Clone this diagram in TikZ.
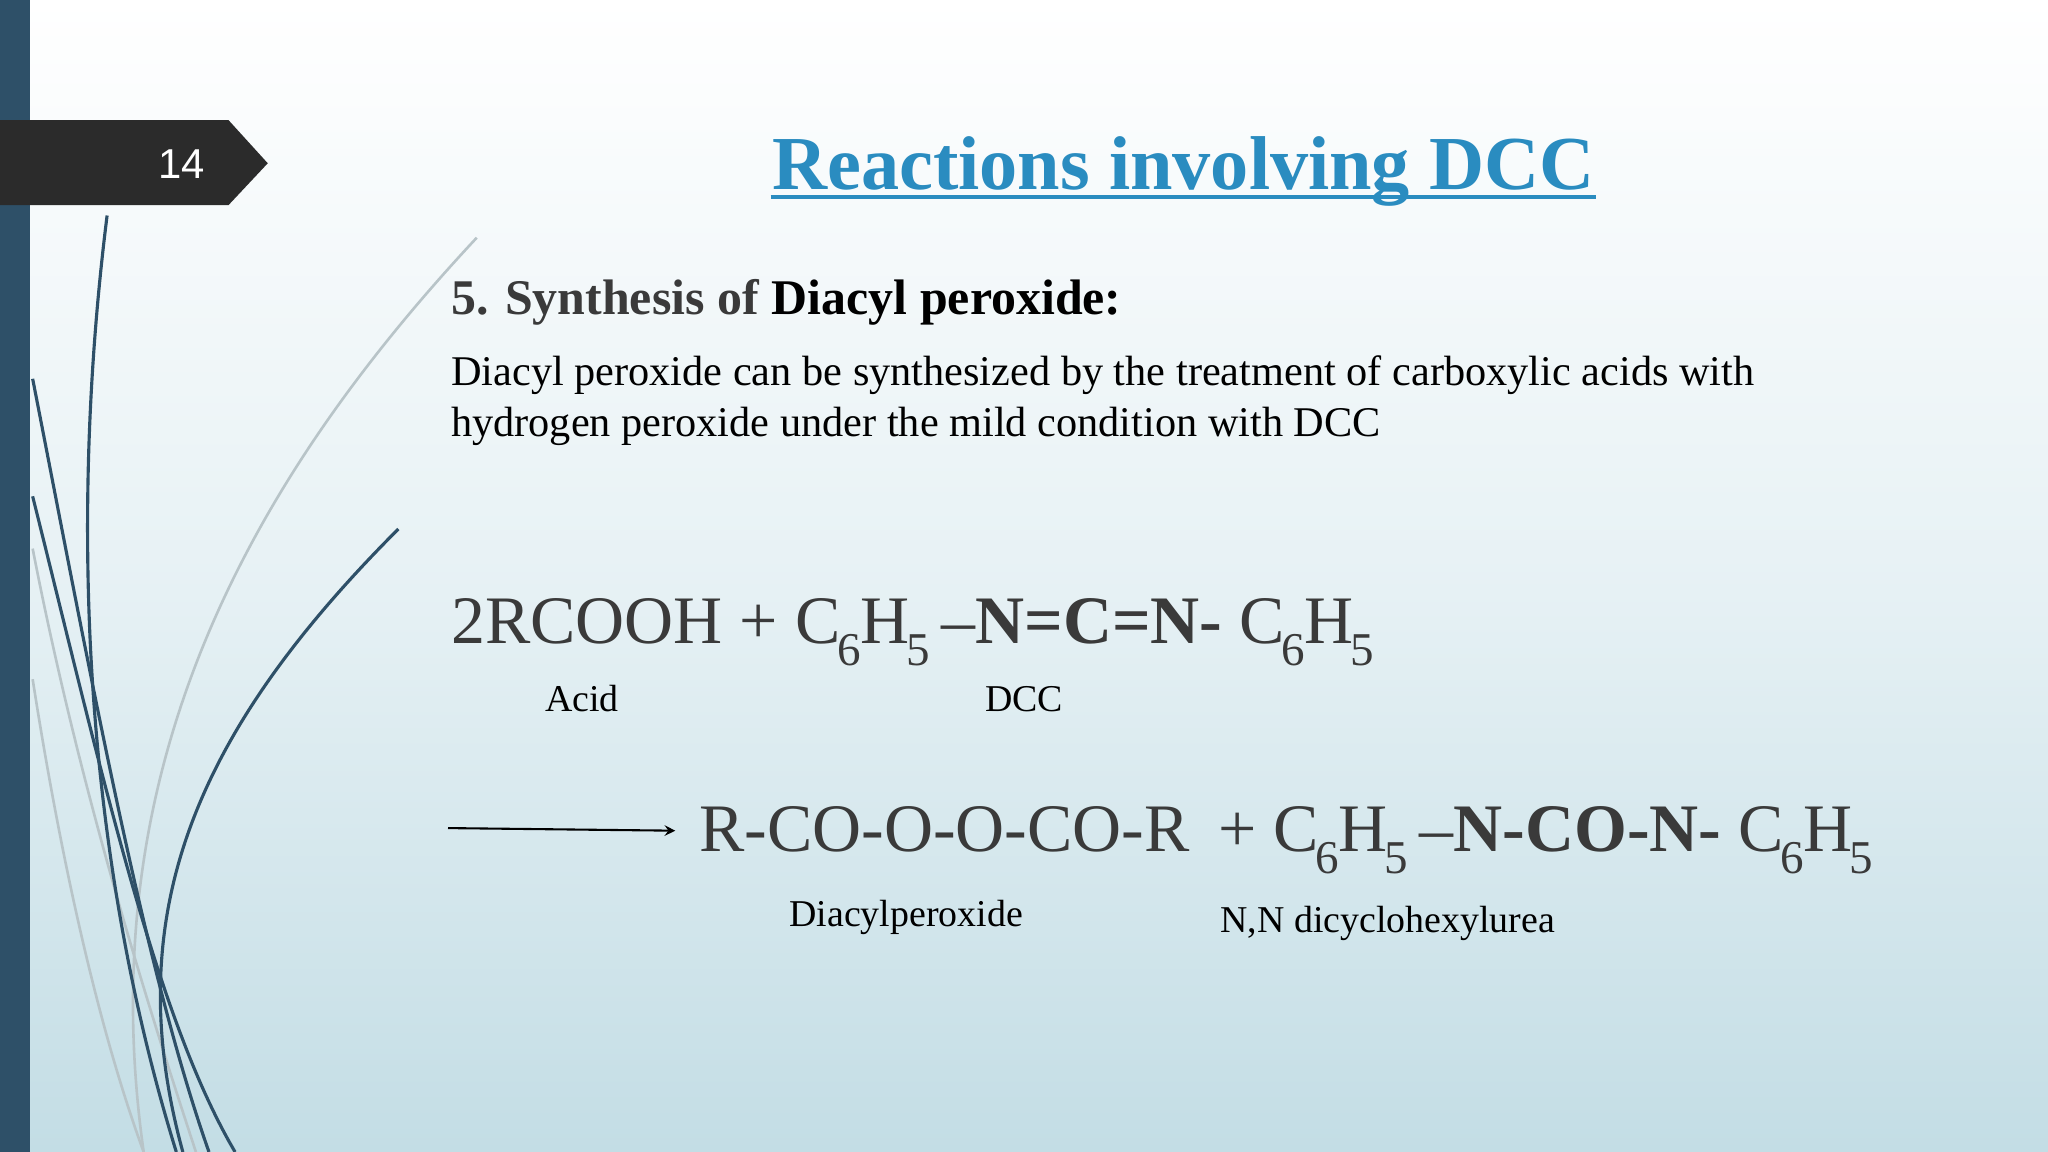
\documentclass[tikz,border=0pt]{standalone}
\usepackage{fontspec}
\setmainfont{Liberation Serif}
\newfontfamily\numfont{Liberation Sans}
\definecolor{bar}{HTML}{2E5068}
\definecolor{tab}{HTML}{2B2B2B}
\definecolor{ttl}{HTML}{2A8CC0}
\definecolor{bgb}{HTML}{C3DDE5}
\definecolor{eq}{HTML}{3A3A3A}
\definecolor{lgray}{HTML}{B8C4C8}
\newcommand{\mysub}[1]{\kern-0.05em\raisebox{-0.32em}{\fontsize{18}{20}\selectfont #1}}
\begin{document}
\begin{tikzpicture}[x=0.5pt,y=-0.5pt,
  lbl/.style={anchor=base west,font=\fontsize{14.5}{16}\selectfont,text=black,inner sep=0},
  eqs/.style={anchor=base west,font=\fontsize{26}{30}\selectfont,text=eq,inner sep=0},
  dk/.style={draw=bar,line width=1.2pt},
  lt/.style={draw=lgray,line width=1pt}]
\useasboundingbox (0,0) rectangle (1568,882);
\shade[top color=white,bottom color=bgb,middle color=white!60!bgb] (0,0) rectangle (1568,882);
% curves
\draw[lt] (365,182) .. controls (180,380) and (70,600) .. (110,882);
\draw[lt] (25,420) .. controls (60,600) and (110,760) .. (150,882);
\draw[lt] (25,520) .. controls (50,680) and (80,800) .. (110,882);
\draw[dk] (82,165) .. controls (55,380) and (60,640) .. (135,882);
\draw[dk] (25,290) .. controls (70,520) and (110,740) .. (160,882);
\draw[dk] (25,380) .. controls (80,600) and (120,780) .. (180,882);
\draw[dk] (305,405) .. controls (150,560) and (90,700) .. (140,882);
\fill[bar] (0,0) rectangle (23,882);
\fill[tab] (0,92) -- (175,92) -- (205,125) -- (175,157) -- (0,157) -- cycle;
\node[text=white,font=\numfont\fontsize{16}{18}\selectfont] (num) at (139,126) {14};
\node[text=ttl,font=\bfseries\fontsize{29.2}{32}\selectfont,anchor=base,inner sep=0] (title) at (906,145) {Reactions involving DCC};
\draw[ttl,line width=1.6pt] (590,151) -- (1222,151);
\node[anchor=base west,inner sep=0,text=eq,font=\fontsize{19.1}{20}\selectfont] (head) at (345,241) {\textbf{5. Synthesis of} \textcolor{black}{\textbf{Diacyl peroxide:}}};
\node[anchor=north west,inner sep=0,align=left,text=black,font=\fontsize{16.2}{19.5}\selectfont] (body) at (345,272) {Diacyl peroxide can be synthesized by the treatment of carboxylic acids with\\hydrogen peroxide under the mild condition with DCC};
\node[eqs] (eq1) at (345,493) {2RCOOH + C\mysub{6}H\mysub{5}\,–\textbf{N=C=N-} C\mysub{6}H\mysub{5}};
\node[lbl] (acid) at (417,545) {Acid};
\node[lbl] (dcc) at (754,545) {DCC};
\coordinate (a0) at (343,634);
\node[eqs] (eq2) at (535,652) {R-CO-O-O-CO-R \,+ C\mysub{6}H\mysub{5}\,–\textbf{N-CO-N-} C\mysub{6}H\mysub{5}};
\draw[-stealth,line width=0.8pt] (a0) -- (517,636);
\node[lbl] (dp) at (604,709) {Diacylperoxide};
\node[lbl] (urea) at (934,714) {N,N dicyclohexylurea};
\end{tikzpicture}
\end{document}
